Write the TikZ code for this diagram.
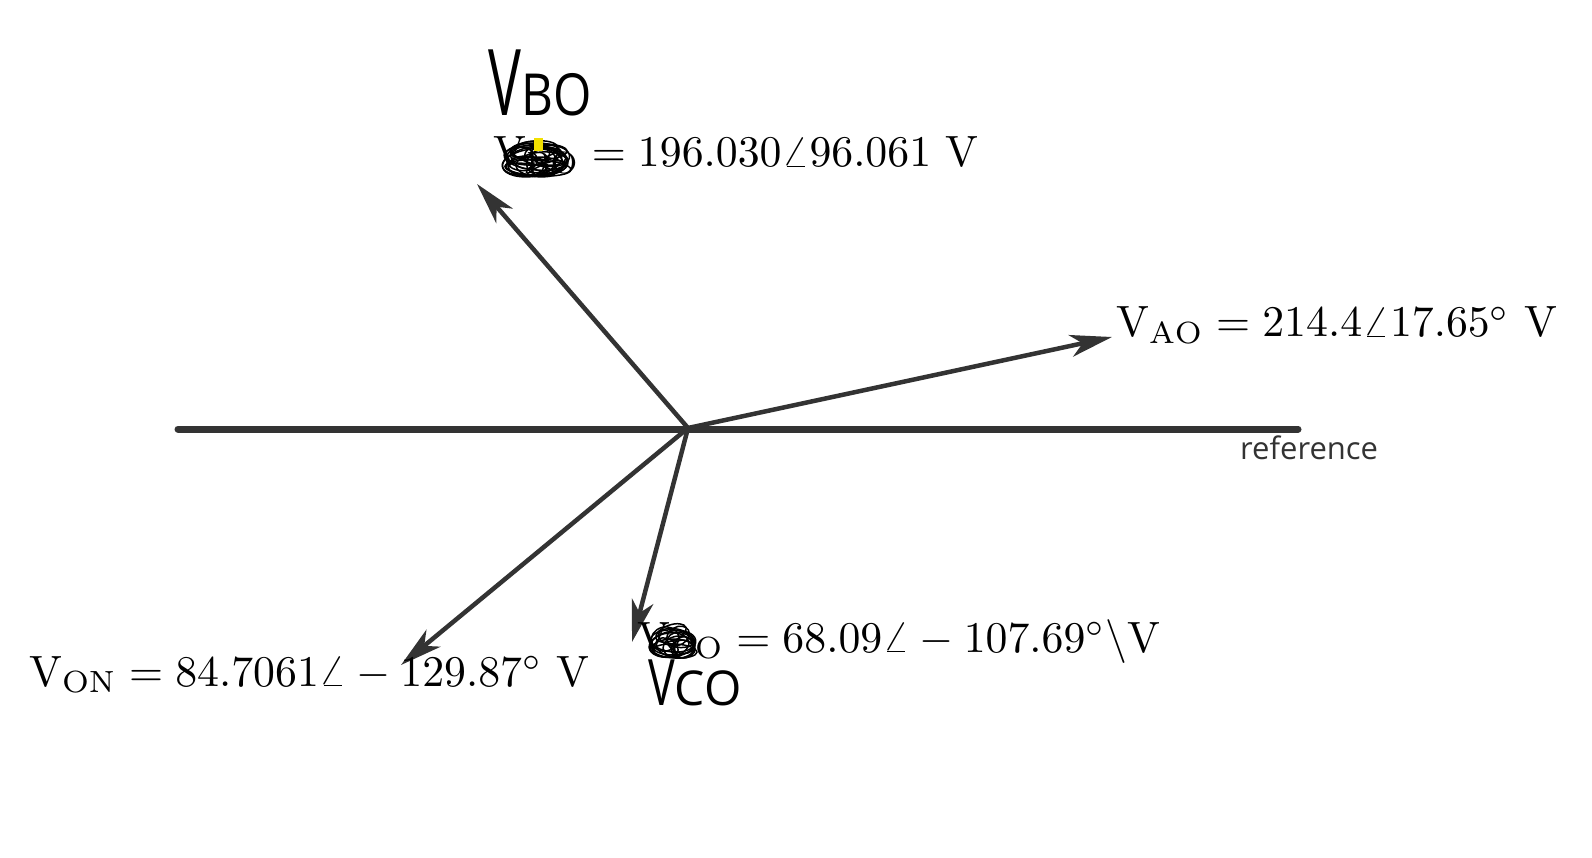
\documentclass[tikz,border=0pt]{standalone}
\usepackage{fontspec}
\usetikzlibrary{arrows.meta}
\newfontfamily\sansref{Open Sans}
\newfontfamily\handfont{Open Sans}
\definecolor{ink}{HTML}{333333}
\definecolor{hl}{HTML}{F2E000}
\newcommand{\bigmath}[1]{\scalebox{4.38}{$#1$}}
\begin{document}
\begin{tikzpicture}[x=1pt,y=-1pt,
  vec/.style={draw=ink, line width=4.5pt, -{Stealth[length=42pt,width=22pt,inset=12pt]}},
  lab/.style={inner sep=0pt, anchor=base west, font=\normalsize},
  hand/.style={inner sep=0pt, anchor=north west, font=\handfont},
  scrib/.style={draw=black, line width=1.5pt}]
\useasboundingbox (0,0) rectangle (1592,858);
% reference line
\coordinate (O) at (688,428);
\coordinate (L) at (178,429);
\coordinate (R) at (1298,429);
\draw[ink, line width=7pt, line cap=round] (L) -- (R);
\node[inner sep=0pt, anchor=base west, font=\sansref\fontsize{31}{36}\selectfont, text=ink] (reflab) at (1240,459) {reference};
% phasors
\coordinate (A) at (1112,337);
\coordinate (B) at (477,184);
\coordinate (N) at (401,665);
\coordinate (C) at (632,642);
\draw[vec] (O) -- (A);
\draw[vec] (O) -- (B);
\draw[vec] (O) -- (N);
\draw[vec] (O) -- (C);
% labels
\node[lab] (lA) at (1116,337) {\bigmath{\mathrm{V}_{\mathrm{AO}} = 214.4\angle 17.65^\circ\ \mathrm{V}}};
\node[lab] (lB) at (493,167) {\bigmath{\mathrm{V}_{\mathrm{BO}} = 196.030\angle 96.061\ \mathrm{V}}};
\node[lab] (lN) at (29,686) {\bigmath{\mathrm{V}_{\mathrm{ON}} = 84.7061\angle - 129.87^\circ\ \mathrm{V}}};
\node[lab] (lC) at (637,652) {\bigmath{\mathrm{V}_{\mathrm{CO}} = 68.09\angle - 107.69^\circ\backslash\mathrm{V}}};
% scribbles over subscripts
\coordinate (sb) at (536,158);
\foreach \dx/\dy/\a/\rx/\ry in {0/0/-5/32/12, -4/4/8/30/13, 3/-3/-12/28/10, 6/6/4/26/12, -8/-2/15/22/14, 2/10/-3/33/8, -2/-8/6/24/9, 8/2/-20/20/12, -10/8/0/18/10, 0/3/10/34/15, 4/-6/2/27/8, -6/12/-8/25/6, 5/4/25/15/12, -12/0/-25/14/10, 12/-2/-8/18/9, 0/8/0/30/9, -3/-4/3/28/11, 10/10/12/20/6}
  \draw[scrib, shift={(sb)}] (\dx,\dy) ellipse [x radius=\rx, y radius=\ry, rotate=\a];
\fill[hl] (534,138) rectangle (543,151);
\coordinate (sc) at (673,641);
\foreach \dx/\dy/\a/\rx/\ry in {0/0/-5/22/11, -4/4/8/20/12, 3/-3/-12/18/9, 6/6/4/16/11, -8/-2/15/14/12, 2/10/-3/22/7, -2/-8/20/16/8, 8/2/-20/14/10, 10/8/0/12/9, 0/3/10/23/13, 5/-5/30/12/9, -6/6/-30/12/8, 0/6/0/20/8}
  \draw[scrib, shift={(sc)}] (\dx,\dy) ellipse [x radius=\rx, y radius=\ry, rotate=\a];
% handwritten annotations
\node[hand] (hB) at (488,50) {\fontsize{92}{92}\selectfont\scalebox{0.6}[1]{V}\fontsize{58}{58}\selectfont\scalebox{0.85}[1]{BO}};
\node[hand] (hC) at (648,660) {\fontsize{64}{64}\selectfont\scalebox{0.7}[1]{V}\fontsize{48}{48}\selectfont\scalebox{1}[1]{CO}};
\end{tikzpicture}
\end{document}
